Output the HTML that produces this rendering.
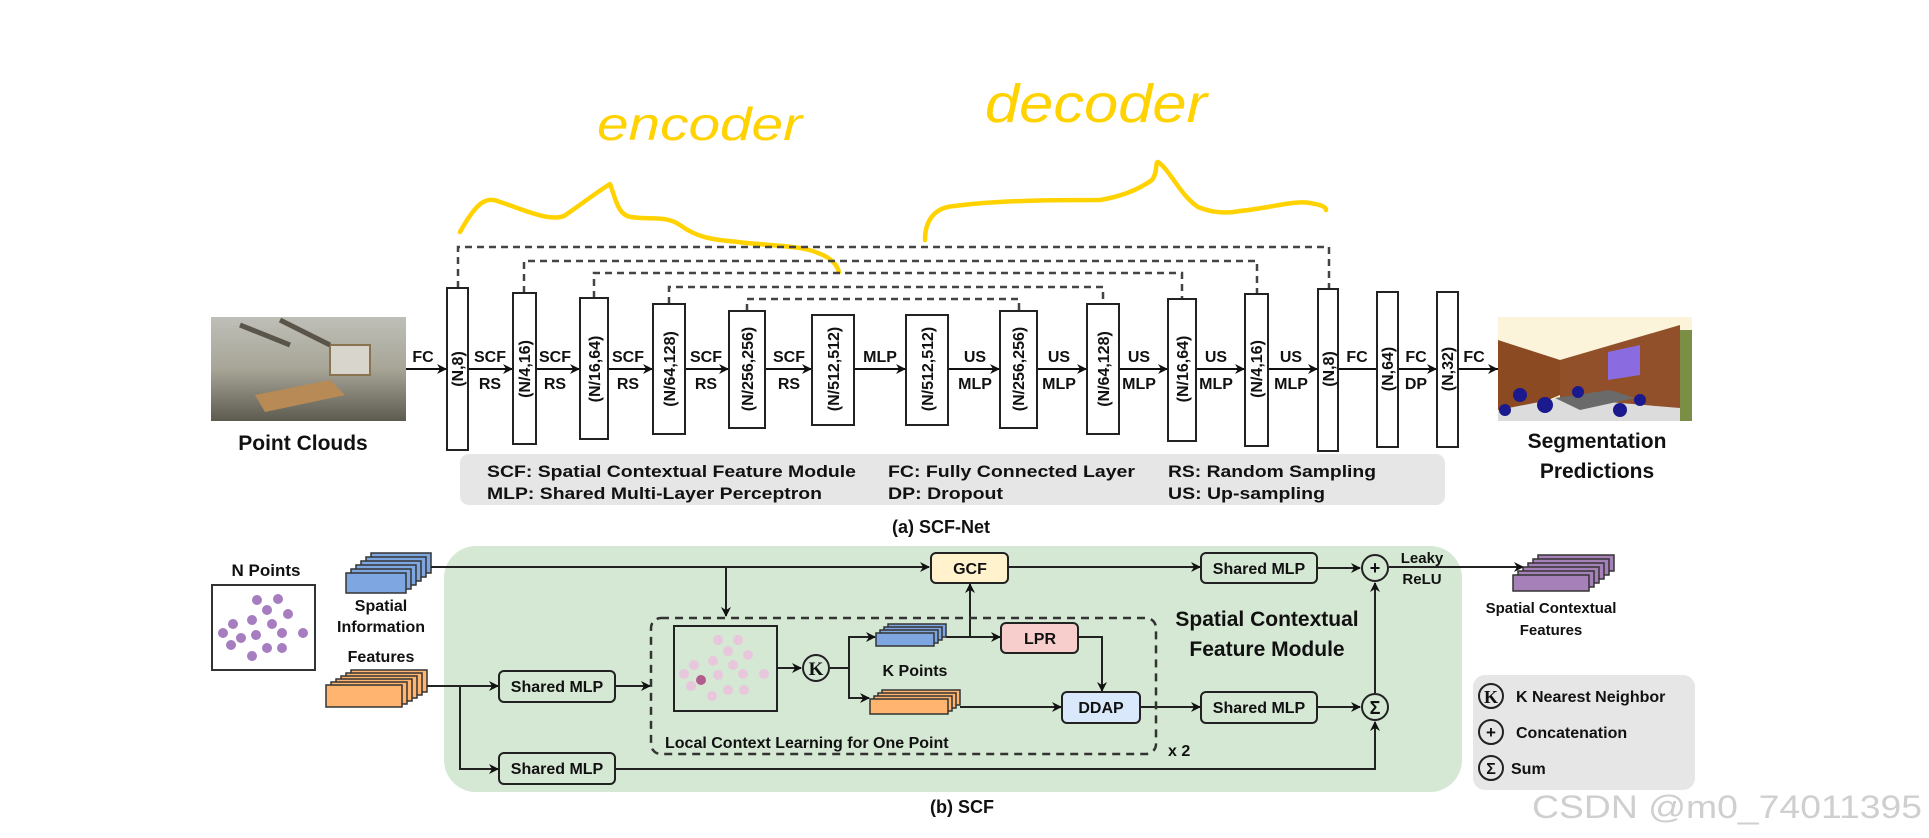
<!DOCTYPE html>
<html><head><meta charset="utf-8"><style>
html,body{margin:0;padding:0;background:#fff;}
svg{display:block;}
text{font-family:"Liberation Sans",Arial,sans-serif;font-weight:bold;fill:#111;}
</style></head><body>
<svg width="1929" height="838" viewBox="0 0 1929 838" xmlns="http://www.w3.org/2000/svg">
<defs>
<marker id="ar" markerWidth="10" markerHeight="10" refX="9" refY="5" orient="auto" markerUnits="userSpaceOnUse"><path d="M0,0 L10,5 L0,10 L3,5 z" fill="#111"/></marker>
<linearGradient id="room" x1="0" y1="0" x2="0" y2="1"><stop offset="0" stop-color="#bfbfb9"/><stop offset="0.5" stop-color="#a7a596"/><stop offset="1" stop-color="#5d5b50"/></linearGradient>
</defs>

<!-- yellow handwriting -->
<g fill="none" stroke="#ffd200" stroke-width="4.5" stroke-linecap="round" stroke-linejoin="round">
<path d="M460,232 C475,205 485,195 500,202 C520,208 548,222 564,216 C580,205 600,190 610,184 C616,200 618,215 631,217 C650,220 665,215 680,225 C700,240 720,240 738,242 C770,246 800,245 818,253 C832,258 837,265 839,272"/>
<path d="M925,240 C925,220 935,207 955,206 C1000,200 1060,200 1100,200 C1130,195 1145,185 1152,180 C1158,172 1155,162 1158,162 C1170,170 1180,195 1198,207 C1210,212 1225,214 1240,211 C1270,208 1295,200 1310,203 C1322,205 1326,207 1326,210"/>
</g>
<text x="597" y="140" font-family="'DejaVu Serif',serif" font-style="italic" font-weight="normal" font-size="46" fill="#ffd200" style="fill:#ffd200;font-weight:normal" textLength="205" lengthAdjust="spacingAndGlyphs">encoder</text>
<text x="985" y="122" font-family="'DejaVu Serif',serif" font-style="italic" font-size="54" fill="#ffd200" style="fill:#ffd200;font-weight:normal" textLength="222" lengthAdjust="spacingAndGlyphs">decoder</text>

<!-- dashed skip connections -->
<g fill="none" stroke="#444" stroke-width="2.5" stroke-dasharray="7,5">
<path d="M458,288 V247 H1329 V289"/>
<path d="M524,293 V261 H1257 V294"/>
<path d="M594,298 V273 H1182 V299"/>
<path d="M669,304 V287 H1103 V304"/>
<path d="M747,311 V299 H1019 V311"/>
</g>

<!-- point cloud image -->
<rect x="211" y="317" width="195" height="104" fill="url(#room)"/>
<rect x="330" y="345" width="40" height="30" fill="#d8d6cc" stroke="#8a7350" stroke-width="2"/>
<polygon points="255,395 330,380 345,395 265,412" fill="#b88a55"/>
<path d="M240,325 L290,345 M280,320 L330,345" stroke="#5a554a" stroke-width="5"/>
<text x="303" y="450" font-size="21" text-anchor="middle">Point Clouds</text>

<!-- segmentation image -->
<rect x="1498" y="317" width="194" height="104" fill="#fbf3da"/>
<polygon points="1498,340 1560,360 1560,395 1498,421" fill="#8b4a22"/>
<polygon points="1560,360 1680,325 1680,410 1560,400" fill="#91502a"/>
<rect x="1680" y="330" width="12" height="91" fill="#7a8f45"/>
<polygon points="1608,352 1640,345 1640,375 1608,380" fill="#8a6be0"/>
<polygon points="1498,410 1560,398 1680,408 1680,421 1498,421" fill="#dcdcdc"/>
<polygon points="1555,398 1610,390 1635,398 1580,410" fill="#6a6a6a"/>
<g fill="#1a1a8e"><circle cx="1520" cy="395" r="7"/><circle cx="1545" cy="405" r="8"/><circle cx="1578" cy="392" r="6"/><circle cx="1620" cy="410" r="7"/><circle cx="1640" cy="400" r="6"/><circle cx="1505" cy="410" r="6"/></g>
<text x="1597" y="448" font-size="21" text-anchor="middle">Segmentation</text>
<text x="1597" y="478" font-size="21" text-anchor="middle">Predictions</text>

<!-- main line -->
<line x1="406" y1="369" x2="1498" y2="369" stroke="#111" stroke-width="2"/>
<g stroke="#111" stroke-width="2">
<line x1="430" y1="369" x2="446" y2="369" marker-end="url(#ar)"/>
<line x1="500" y1="369" x2="512" y2="369" marker-end="url(#ar)"/>
<line x1="565" y1="369" x2="579" y2="369" marker-end="url(#ar)"/>
<line x1="640" y1="369" x2="652" y2="369" marker-end="url(#ar)"/>
<line x1="715" y1="369" x2="728" y2="369" marker-end="url(#ar)"/>
<line x1="800" y1="369" x2="811" y2="369" marker-end="url(#ar)"/>
<line x1="890" y1="369" x2="905" y2="369" marker-end="url(#ar)"/>
<line x1="985" y1="369" x2="999" y2="369" marker-end="url(#ar)"/>
<line x1="1070" y1="369" x2="1086" y2="369" marker-end="url(#ar)"/>
<line x1="1150" y1="369" x2="1167" y2="369" marker-end="url(#ar)"/>
<line x1="1225" y1="369" x2="1244" y2="369" marker-end="url(#ar)"/>
<line x1="1300" y1="369" x2="1317" y2="369" marker-end="url(#ar)"/>
<line x1="1420" y1="369" x2="1436" y2="369" marker-end="url(#ar)"/>
<line x1="1480" y1="369" x2="1497" y2="369" marker-end="url(#ar)"/>
</g>

<!-- boxes -->
<g fill="#fff" stroke="#222" stroke-width="2">
<rect x="447" y="288" width="21" height="162"/>
<rect x="513" y="293" width="23" height="151"/>
<rect x="580" y="298" width="28" height="141"/>
<rect x="653" y="304" width="32" height="130"/>
<rect x="729" y="311" width="36" height="117"/>
<rect x="812" y="315" width="42" height="110"/>
<rect x="906" y="315" width="42" height="110"/>
<rect x="1000" y="311" width="37" height="117"/>
<rect x="1087" y="304" width="32" height="130"/>
<rect x="1168" y="299" width="28" height="142"/>
<rect x="1245" y="294" width="23" height="152"/>
<rect x="1318" y="289" width="20" height="162"/>
<rect x="1377" y="292" width="21" height="155"/>
<rect x="1437" y="292" width="21" height="155"/>
</g>
<g font-size="16">
<text transform="translate(463,369) rotate(-90)" text-anchor="middle">(N,8)</text>
<text transform="translate(530,369) rotate(-90)" text-anchor="middle">(N/4,16)</text>
<text transform="translate(600,369) rotate(-90)" text-anchor="middle">(N/16,64)</text>
<text transform="translate(675,369) rotate(-90)" text-anchor="middle">(N/64,128)</text>
<text transform="translate(753,369) rotate(-90)" text-anchor="middle">(N/256,256)</text>
<text transform="translate(839,369) rotate(-90)" text-anchor="middle">(N/512,512)</text>
<text transform="translate(933,369) rotate(-90)" text-anchor="middle">(N/512,512)</text>
<text transform="translate(1024,369) rotate(-90)" text-anchor="middle">(N/256,256)</text>
<text transform="translate(1109,369) rotate(-90)" text-anchor="middle">(N/64,128)</text>
<text transform="translate(1188,369) rotate(-90)" text-anchor="middle">(N/16,64)</text>
<text transform="translate(1262,369) rotate(-90)" text-anchor="middle">(N/4,16)</text>
<text transform="translate(1334,369) rotate(-90)" text-anchor="middle">(N,8)</text>
<text transform="translate(1393,369) rotate(-90)" text-anchor="middle">(N,64)</text>
<text transform="translate(1453,369) rotate(-90)" text-anchor="middle">(N,32)</text>
</g>
<g font-size="16" text-anchor="middle">
<text x="423" y="362">FC</text>
<text x="490" y="362">SCF</text><text x="490" y="389">RS</text>
<text x="555" y="362">SCF</text><text x="555" y="389">RS</text>
<text x="628" y="362">SCF</text><text x="628" y="389">RS</text>
<text x="706" y="362">SCF</text><text x="706" y="389">RS</text>
<text x="789" y="362">SCF</text><text x="789" y="389">RS</text>
<text x="880" y="362">MLP</text>
<text x="975" y="362">US</text><text x="975" y="389">MLP</text>
<text x="1059" y="362">US</text><text x="1059" y="389">MLP</text>
<text x="1139" y="362">US</text><text x="1139" y="389">MLP</text>
<text x="1216" y="362">US</text><text x="1216" y="389">MLP</text>
<text x="1291" y="362">US</text><text x="1291" y="389">MLP</text>
<text x="1357" y="362">FC</text>
<text x="1416" y="362">FC</text><text x="1416" y="389">DP</text>
<text x="1474" y="362">FC</text>
</g>

<!-- legend a -->
<rect x="460" y="454" width="985" height="51" rx="9" fill="#e6e6e6"/>
<g font-size="17">
<text x="487" y="477" textLength="369" lengthAdjust="spacingAndGlyphs">SCF: Spatial Contextual Feature Module</text>
<text x="487" y="499" textLength="335" lengthAdjust="spacingAndGlyphs">MLP: Shared Multi-Layer Perceptron</text>
<text x="888" y="477" textLength="247" lengthAdjust="spacingAndGlyphs">FC: Fully Connected Layer</text>
<text x="888" y="499" textLength="115" lengthAdjust="spacingAndGlyphs">DP: Dropout</text>
<text x="1168" y="477" textLength="208" lengthAdjust="spacingAndGlyphs">RS: Random Sampling</text>
<text x="1168" y="499" textLength="157" lengthAdjust="spacingAndGlyphs">US: Up-sampling</text>
</g>
<text x="941" y="533" font-size="18" text-anchor="middle">(a) SCF-Net</text>

<!-- (b) SCF -->
<rect x="444" y="546" width="1018" height="246" rx="32" fill="#d5e8d4"/>

<text x="266" y="576" font-size="17" text-anchor="middle">N Points</text>
<rect x="212" y="585" width="103" height="85" fill="#fff" stroke="#333" stroke-width="2"/>
<g fill="#a67dbf">
<circle cx="257" cy="600" r="5"/><circle cx="278" cy="599" r="5"/><circle cx="267" cy="610" r="5"/><circle cx="288" cy="614" r="5"/>
<circle cx="252" cy="620" r="5"/><circle cx="233" cy="624" r="5"/><circle cx="272" cy="624" r="5"/><circle cx="223" cy="633" r="5"/>
<circle cx="241" cy="638" r="5"/><circle cx="256" cy="635" r="5"/><circle cx="282" cy="633" r="5"/><circle cx="303" cy="633" r="5"/>
<circle cx="231" cy="645" r="5"/><circle cx="267" cy="648" r="5"/><circle cx="282" cy="648" r="5"/><circle cx="252" cy="656" r="5"/>
</g>

<!-- stacks -->
<g stroke="#333" stroke-width="1.5" fill="#7ea6e0">
<rect x="371" y="553" width="60" height="20"/><rect x="366" y="557" width="60" height="20"/><rect x="361" y="561" width="60" height="20"/><rect x="356" y="565" width="60" height="20"/><rect x="351" y="569" width="60" height="20"/><rect x="346" y="573" width="60" height="20"/>
</g>
<text x="381" y="611" font-size="16" text-anchor="middle">Spatial</text>
<text x="381" y="632" font-size="16" text-anchor="middle">Information</text>
<text x="381" y="662" font-size="16" text-anchor="middle">Features</text>
<g stroke="#333" stroke-width="1.5" fill="#ffb570">
<rect x="351" y="670" width="76" height="22"/><rect x="346" y="673" width="76" height="22"/><rect x="341" y="676" width="76" height="22"/><rect x="336" y="679" width="76" height="22"/><rect x="331" y="682" width="76" height="22"/><rect x="326" y="685" width="76" height="22"/>
</g>

<g fill="none" stroke="#222" stroke-width="2">
<line x1="431" y1="567" x2="929" y2="567" marker-end="url(#ar)"/>
<line x1="726" y1="567" x2="726" y2="616" marker-end="url(#ar)"/>
<line x1="427" y1="686" x2="498" y2="686" marker-end="url(#ar)"/>
<path d="M460,686 V769 H498" marker-end="url(#ar)"/>
<line x1="615" y1="686" x2="650" y2="686" marker-end="url(#ar)"/>
<line x1="777" y1="668" x2="801" y2="668" marker-end="url(#ar)"/>
<path d="M830,668 H849 V637 H875" marker-end="url(#ar)"/>
<path d="M849,668 V698 H869" marker-end="url(#ar)"/>
<line x1="946" y1="637" x2="1000" y2="637" marker-end="url(#ar)"/>
<line x1="970" y1="637" x2="970" y2="584" marker-end="url(#ar)"/>
<path d="M1078,637 H1102 V691" marker-end="url(#ar)"/>
<line x1="960" y1="707" x2="1061" y2="707" marker-end="url(#ar)"/>
<line x1="1008" y1="567" x2="1200" y2="567" marker-end="url(#ar)"/>
<line x1="1140" y1="707" x2="1200" y2="707" marker-end="url(#ar)"/>
<line x1="1317" y1="568" x2="1360" y2="568" marker-end="url(#ar)"/>
<line x1="1317" y1="707" x2="1360" y2="707" marker-end="url(#ar)"/>
<line x1="1375" y1="693" x2="1375" y2="583" marker-end="url(#ar)"/>
<path d="M615,769 H1375 V722" marker-end="url(#ar)"/>
<line x1="1389" y1="567" x2="1523" y2="567" marker-end="url(#ar)"/>
</g>

<!-- dashed local context rect -->
<rect x="651" y="618" width="505" height="136" rx="10" fill="none" stroke="#333" stroke-width="2.5" stroke-dasharray="8,6"/>
<rect x="674" y="626" width="103" height="85" fill="#d5e8d4" stroke="#222" stroke-width="2"/>
<g fill="#e8c7dc">
<circle cx="718" cy="640" r="5"/><circle cx="738" cy="640" r="5"/><circle cx="728" cy="651" r="5"/><circle cx="748" cy="655" r="5"/>
<circle cx="713" cy="661" r="5"/><circle cx="694" cy="665" r="5"/><circle cx="733" cy="665" r="5"/><circle cx="684" cy="674" r="5"/>
<circle cx="718" cy="675" r="5"/><circle cx="743" cy="674" r="5"/><circle cx="764" cy="674" r="5"/><circle cx="691" cy="686" r="5"/>
<circle cx="728" cy="690" r="5"/><circle cx="744" cy="690" r="5"/><circle cx="712" cy="696" r="5"/>
</g>
<circle cx="701" cy="680" r="5" fill="#b45c8e"/>
<circle cx="816" cy="668" r="13" fill="#d5e8d4" stroke="#222" stroke-width="2"/>
<text x="816" y="675" font-size="19" text-anchor="middle" font-family="'Liberation Serif',serif" style="font-family:'Liberation Serif',serif">K</text>
<g stroke="#333" stroke-width="1.5" fill="#7ea6e0">
<rect x="888" y="624" width="58" height="13"/><rect x="884" y="627" width="58" height="13"/><rect x="880" y="630" width="58" height="13"/><rect x="876" y="633" width="58" height="13"/>
</g>
<g stroke="#333" stroke-width="1.5" fill="#ffb570">
<rect x="882" y="690" width="78" height="15"/><rect x="878" y="693" width="78" height="15"/><rect x="874" y="696" width="78" height="15"/><rect x="870" y="699" width="78" height="15"/>
</g>
<text x="915" y="676" font-size="16" text-anchor="middle">K Points</text>
<text x="665" y="748" font-size="16">Local Context Learning for One Point</text>
<text x="1168" y="756" font-size="16">x 2</text>

<g stroke="#222" stroke-width="2">
<rect x="931" y="553" width="77" height="30" rx="5" fill="#fff2cc"/>
<rect x="1001" y="623" width="77" height="30" rx="5" fill="#f8cecc"/>
<rect x="1062" y="692" width="78" height="31" rx="5" fill="#dae8fc"/>
<rect x="499" y="671" width="116" height="31" rx="5" fill="#d5e8d4"/>
<rect x="499" y="753" width="116" height="31" rx="5" fill="#d5e8d4"/>
<rect x="1201" y="553" width="116" height="30" rx="5" fill="#d5e8d4"/>
<rect x="1201" y="692" width="116" height="31" rx="5" fill="#d5e8d4"/>
</g>
<g font-size="16" text-anchor="middle">
<text x="970" y="574">GCF</text>
<text x="1040" y="644">LPR</text>
<text x="1101" y="713">DDAP</text>
<text x="557" y="692">Shared MLP</text>
<text x="557" y="774">Shared MLP</text>
<text x="1259" y="574">Shared MLP</text>
<text x="1259" y="713">Shared MLP</text>
</g>
<circle cx="1375" cy="568" r="13" fill="#d5e8d4" stroke="#222" stroke-width="2"/>
<text x="1375" y="574" font-size="18" text-anchor="middle">+</text>
<circle cx="1375" cy="707" r="13" fill="#d5e8d4" stroke="#222" stroke-width="2"/>
<text x="1375" y="714" font-size="18" text-anchor="middle">Σ</text>
<text x="1422" y="563" font-size="15" text-anchor="middle">Leaky</text>
<text x="1422" y="584" font-size="15" text-anchor="middle">ReLU</text>
<text x="1267" y="626" font-size="21" text-anchor="middle">Spatial Contextual</text>
<text x="1267" y="656" font-size="21" text-anchor="middle">Feature Module</text>

<g stroke="#333" stroke-width="1.5" fill="#a680b8">
<rect x="1538" y="555" width="76" height="16"/><rect x="1533" y="559" width="76" height="16"/><rect x="1528" y="563" width="76" height="16"/><rect x="1523" y="567" width="76" height="16"/><rect x="1518" y="571" width="76" height="16"/><rect x="1513" y="575" width="76" height="16"/>
</g>
<text x="1551" y="613" font-size="15" text-anchor="middle">Spatial Contextual</text>
<text x="1551" y="635" font-size="15" text-anchor="middle">Features</text>

<text x="962" y="813" font-size="18" text-anchor="middle">(b) SCF</text>

<!-- legend b -->
<rect x="1473" y="675" width="222" height="115" rx="12" fill="#e6e6e6"/>
<circle cx="1491" cy="696" r="12" fill="#e6e6e6" stroke="#222" stroke-width="2"/>
<text x="1491" y="703" font-size="18" text-anchor="middle" style="font-family:'Liberation Serif',serif">K</text>
<text x="1516" y="702" font-size="16">K Nearest Neighbor</text>
<circle cx="1491" cy="732" r="12" fill="#e6e6e6" stroke="#222" stroke-width="2"/>
<text x="1491" y="738" font-size="17" text-anchor="middle">+</text>
<text x="1516" y="738" font-size="16">Concatenation</text>
<circle cx="1491" cy="768" r="12" fill="#e6e6e6" stroke="#222" stroke-width="2"/>
<text x="1491" y="774" font-size="16" text-anchor="middle">Σ</text>
<text x="1511" y="774" font-size="16">Sum</text>

<text x="1532" y="818" font-size="32" style="font-weight:normal;fill:#cfcfcf" textLength="390" lengthAdjust="spacingAndGlyphs">CSDN @m0_74011395</text>
</svg>
</body></html>
